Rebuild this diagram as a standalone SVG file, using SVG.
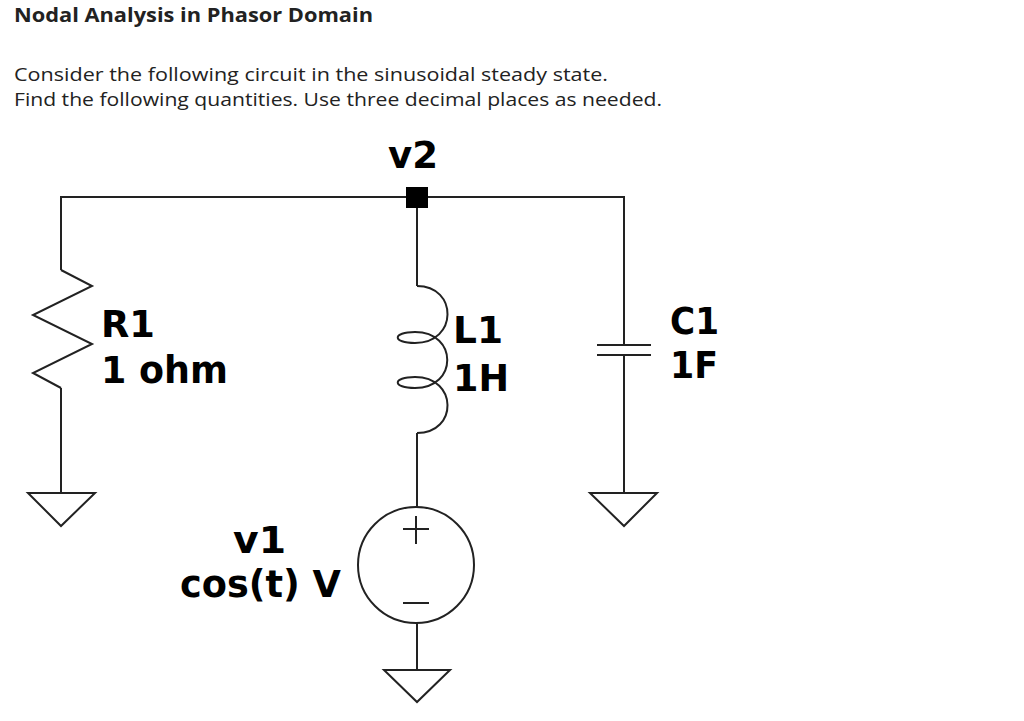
<svg xmlns="http://www.w3.org/2000/svg" width="1024" height="721" viewBox="0 0 1024 721">
<style>
.w{fill:none;stroke:#222;stroke-width:2}
.h{font-family:"Open Sans","Liberation Sans",sans-serif;font-size:19px;fill:#222}
.l{font-family:"DejaVu Sans",sans-serif;font-weight:bold;font-size:37px;fill:#000}
</style>
<rect width="1024" height="721" fill="#fff"/>
<text class="h" x="14" y="22" font-weight="bold" textLength="359" lengthAdjust="spacingAndGlyphs">Nodal Analysis in Phasor Domain</text>
<text class="h" x="14" y="81" textLength="594" lengthAdjust="spacingAndGlyphs">Consider the following circuit in the sinusoidal steady state.</text>
<text class="h" x="14" y="106" textLength="648" lengthAdjust="spacingAndGlyphs">Find the following quantities. Use three decimal places as needed.</text>
<g id="connectors">
<path class="w" d="M61,270 V197 H624 V345 M417,197 V286 M417,433 V507 M417,623 V670 M61,388 V493 M624,355 V493"/>
</g>
<g id="v2"><rect x="406" y="187" width="22" height="21" fill="#000"/><text class="l" x="388" y="168" textLength="50" lengthAdjust="spacingAndGlyphs">v2</text></g>
<g id="R1"><path class="w" d="M61,270 L92,286 L33,315 L92,344 L33,373 L61,388"/><path class="w" d="M28,493 H95 L61,526 Z"/>
<text class="l" x="101" y="337" textLength="54" lengthAdjust="spacingAndGlyphs">R1</text><text class="l" x="101" y="383" textLength="127" lengthAdjust="spacingAndGlyphs">1 ohm</text></g>
<g id="L1"><path class="w" d="M417,286 C458,286 458,343 415,343 C392,343 392,332 415,332 C458,332 458,388 415,388 C392,388 392,377 415,377 C458,377 458,433 417,433"/>
<text class="l" x="453" y="343" textLength="50" lengthAdjust="spacingAndGlyphs">L1</text><text class="l" x="453" y="391" textLength="56" lengthAdjust="spacingAndGlyphs">1H</text></g>
<g id="C1"><path class="w" d="M597,345 H651 M597,355 H651"/><path class="w" d="M590,493 H657 L624,526 Z"/>
<text class="l" x="670" y="334" textLength="49" lengthAdjust="spacingAndGlyphs">C1</text><text class="l" x="670" y="378" textLength="48" lengthAdjust="spacingAndGlyphs">1F</text></g>
<g id="v1"><circle class="w" cx="416" cy="565" r="58"/><path class="w" d="M403,529 H429 M416,516 V544 M403,603 H429"/><path class="w" d="M384,670 H450 L417,702 Z"/>
<text class="l" x="233" y="553" textLength="53" lengthAdjust="spacingAndGlyphs">v1</text><text class="l" x="180" y="597" textLength="161" lengthAdjust="spacingAndGlyphs">cos(t) V</text></g>
</svg>
